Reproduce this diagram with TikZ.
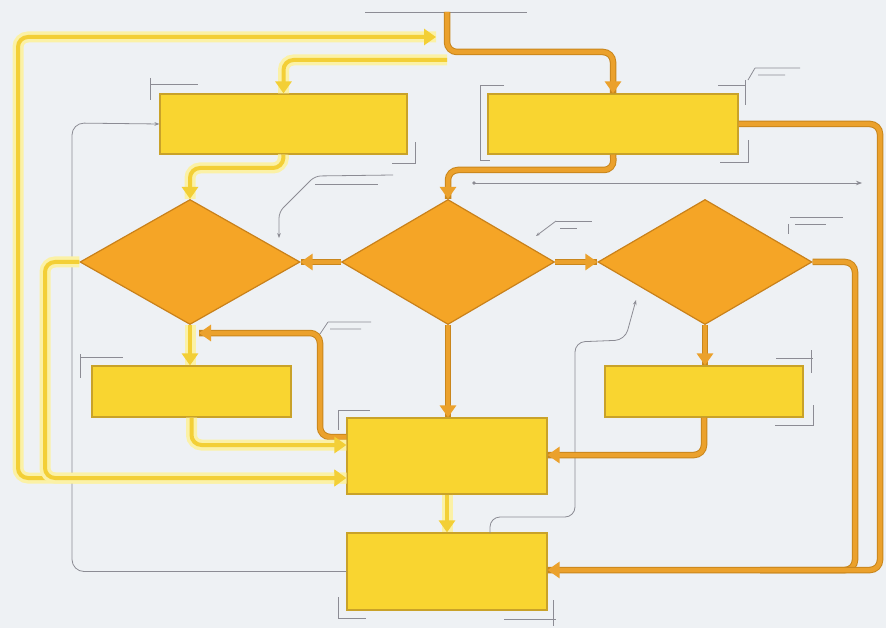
\documentclass[tikz,border=0pt]{standalone}
\usetikzlibrary{shapes.geometric,arrows.meta}
\definecolor{bgcol}{HTML}{EEF1F4}
\definecolor{boxfill}{HTML}{F9D530}
\definecolor{boxedge}{HTML}{C9A229}
\definecolor{decfill}{HTML}{F5A526}
\definecolor{decedge}{HTML}{C9811A}
\definecolor{flowY}{HTML}{F3CF36}
\definecolor{haloY}{HTML}{FBF1A6}
\definecolor{flowO}{HTML}{EBA12C}
\definecolor{edgeO}{HTML}{C9861C}
\definecolor{notecol}{HTML}{8C8C94}
\tikzset{
  taskbox/.style={draw=boxedge, fill=boxfill, line width=1.2pt, inner sep=0pt},
  decision/.style={diamond, draw=decedge, fill=decfill, line width=1.2pt, inner sep=0pt},
  flowtip/.tip={Triangle[length=12pt,width=16pt]},
  yflow/.style={draw=flowY, line width=4pt, rounded corners=10pt, -flowtip,
    preaction={draw=haloY, line width=11pt, arrows=-}},
  oflow/.style={draw=flowO, line width=4.5pt, rounded corners=10pt, -flowtip,
    preaction={draw=edgeO, line width=6.5pt, arrows=-}},
  note/.style={draw=notecol, line width=0.8pt},
}
\begin{document}
\begin{tikzpicture}[x=1pt,y=-1pt]
    \useasboundingbox[fill=bgcol] (0,0) rectangle (886,628);

    %boxes and decisions
    \node[taskbox, minimum width=247pt, minimum height=60pt] (taskL) at (283.5,124) {};
    \node[taskbox, minimum width=250pt, minimum height=60pt] (taskR) at (613,124) {};
    \node[decision, minimum width=220pt, minimum height=125pt, aspect=1.76] (decL) at (190,262) {};
    \node[decision, minimum width=213pt, minimum height=125pt, aspect=1.7] (decM) at (448,262) {};
    \node[decision, minimum width=214pt, minimum height=125pt, aspect=1.71] (decR) at (705,262) {};
    \node[taskbox, minimum width=199pt, minimum height=51pt] (subL) at (191.5,391.5) {};
    \node[taskbox, minimum width=198pt, minimum height=51pt] (subR) at (704,391.5) {};
    \node[taskbox, minimum width=200pt, minimum height=76pt] (merge) at (447,456) {};
    \node[taskbox, minimum width=200pt, minimum height=77pt] (out) at (447,571.5) {};

    %entry
    \coordinate (entry) at (447,12);
    \coordinate (split) at (447,60);
    \coordinate (loopin) at (436,37);
    \draw[note] (365,12) -- (527,12);
    \draw[yflow] (split) -| (taskL.north);
    \draw[yflow, flowtip-flowtip] (loopin) -- (18,37) |- (merge.west |- 0,478);
    \draw[oflow] (entry) -- (447,52) -| (taskR.north);

    %thin feedback lines
    \coordinate (hint) at (199,333);
    \coordinate (upper) at (636,300);
    \draw[note, rounded corners=12pt, -{Stealth[length=5pt]}] (out.west) -| (72,123) -- (taskL.west);
    \draw[note, rounded corners=10pt, -{Stealth[length=5pt]}] (490,533) -- (490,517) -- (575,517)
        -- (575,342) -- (625,340) -- (upper);
    \fill[notecol] (474,183) circle (1.8pt);
    \draw[note, -{Stealth[length=6pt]}] (474,183) -- (862,183);

    %flow between shapes
    \draw[yflow] (taskL.south) -- (283,168) -| (decL.north);
    \draw[oflow] (taskR.south) -- (614,170) -| (decM.north);
    \draw[oflow] (decM.west) -- (decL.east);
    \draw[oflow] (decM.east) -- (decR.west);
    \draw[oflow] (decM.south) -- (decM.south |- merge.north);
    \draw[yflow] (decL.south) -- (decL.south |- subL.north);
    \draw[oflow] (decR.south) -- (decR.south |- subR.north);
    \draw[yflow] (decL.west) -| (45,478) -- (merge.west |- 0,478);
    \draw[oflow] (merge.west |- 0,437) -- (320,437) |- (hint);
    \draw[yflow] (subL.south) |- (merge.west |- 0,445);
    \draw[oflow] (subR.south) |- (merge.east |- 0,455);
    \draw[yflow] (merge.south) -- (out.north);
    \draw[oflow, arrows=-] (decR.east) -| (855,570) -- (760,570);
    \draw[oflow] (taskR.east) -| (880,570) -- (out.east |- 0,570);

    %annotation marks
    \draw[note] (150,78) -- (150,100) (150,84) -- (198,84);
    \draw[note] (392,163) -- (415,163) -- (415,142);
    \draw[note] (504,85) -- (480,85) -- (480,160) -- (490,160);
    \draw[note] (718,85) -- (745,85) (745,80) -- (745,105);
    \draw[note] (720,162) -- (748,162) -- (748,140);
    \draw[note] (755,68) -- (800,68) (758,75) -- (785,75) (748,80) -- (755,68);
    \draw[note, rounded corners=6pt, -{Stealth[length=5pt]}] (393,175) -- (315,176) -- (279,212) -- (279,238);
    \draw[note] (315,184) -- (378,184);
    \draw[note, -{Stealth[length=4pt]}] (556,221) -- (536,236);
    \draw[note] (556,221) -- (592,221) (560,228) -- (577,228);
    \draw[note] (788,224) -- (788,234) (790,217) -- (843,217) (795,224) -- (826,224);
    \draw[note] (328,322) -- (371,322) (330,329) -- (361,329) (320,334) -- (328,322);
    \draw[note] (80,354) -- (80,378) (80,357) -- (123,357);
    \draw[note] (338,410) -- (338,430) (338,410) -- (370,410);
    \draw[note] (776,358) -- (813,358) (811,350) -- (811,373);
    \draw[note] (775,425) -- (813,425) -- (813,405);
    \draw[note] (338,597) -- (338,618) -- (366,618);
    \draw[note] (504,619) -- (556,619) (553,600) -- (553,626);
\end{tikzpicture}
\end{document}
